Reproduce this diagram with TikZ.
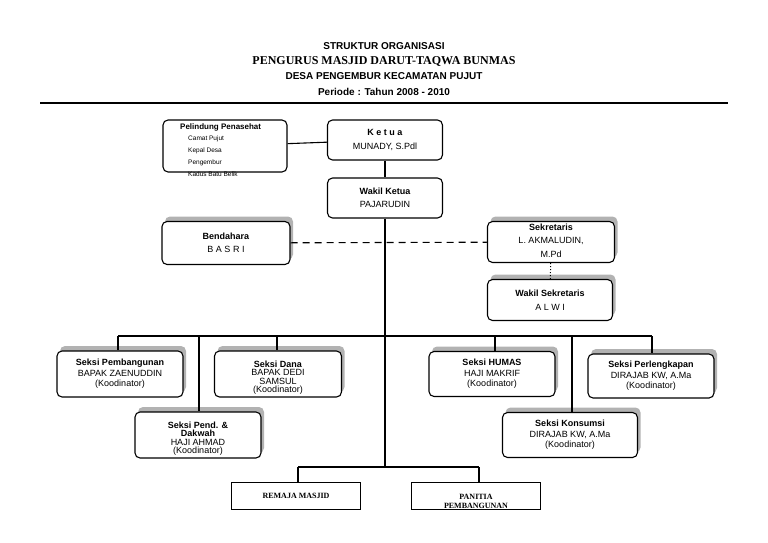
\documentclass[tikz,border=0pt]{standalone}
\usepackage{fontspec}
\setmainfont{Liberation Sans}
\newfontfamily\serif{Liberation Serif}
\begin{document}
\begin{tikzpicture}[x=1pt,y=-1pt,
  bx/.style={draw,line width=1.1pt,rounded corners=5pt,fill=white,align=center,font=\fontsize{9}{10.5}\selectfont,inner sep=2pt},
  sh/.style={bx,preaction={fill=black!30,draw=none,transform canvas={shift={(3pt,5pt)}}}},
  sq/.style={draw,line width=1.1pt,fill=white,align=center,font=\serif\bfseries\fontsize{8}{9}\selectfont},
  ln/.style={line width=1.1pt}]
\useasboundingbox (0,0) rectangle (768,543);
% titles
\node (t1) at (384,46) {\bfseries\fontsize{10}{11}\selectfont STRUKTUR ORGANISASI};
\node (t2) at (384,62) {\serif\bfseries\fontsize{12}{13}\selectfont PENGURUS MASJID DARUT-TAQWA BUNMAS};
\node (t3) at (384,76) {\bfseries\fontsize{10}{11}\selectfont DESA PENGEMBUR KECAMATAN PUJUT};
\node (t4) at (384,92) {\bfseries\fontsize{10}{11}\selectfont Periode : Tahun 2008 - 2010};
\coordinate (r1) at (40,103); \coordinate (r2) at (728,103);
\draw[line width=2.5pt] (r1) -- (r2);
% nodes
\node[bx,minimum width=124,minimum height=52] (pel) at (225,146) {};
\node[anchor=north west,align=left,inner sep=0pt] (pelt) at (180,124) {\bfseries\fontsize{8}{9}\selectfont Pelindung Penasehat\\[-1pt]\fontsize{6.5}{7.5}\selectfont\hspace*{8pt}Camat Pujut\\\fontsize{6.5}{7.5}\selectfont\hspace*{8pt}Kepal Desa\\\fontsize{6.5}{7.5}\selectfont\hspace*{8pt}Pengembur\\\fontsize{6.5}{7.5}\selectfont\hspace*{8pt}Kadus Batu Belik};
\node[bx,minimum width=115,minimum height=40] (ket) at (385,140) {\textbf{K e t u a}\\[3pt]MUNADY, S.Pdl};
\node[bx,minimum width=115,minimum height=40] (wk) at (385,198) {\textbf{Wakil Ketua}\\[3pt]PAJARUDIN};
\node[sh,minimum width=128,minimum height=43] (ben) at (226,243) {\textbf{Bendahara}\\[3pt]B A S R I};
\node[sh,minimum width=127,minimum height=41,text depth=0pt] (sek) at (551,242) {};
\node (sekt) at (551,242) {\fontsize{9}{10.5}\selectfont\begin{tabular}{c}\textbf{Sekretaris}\\[2pt]L. AKMALUDIN,\\[4pt]M.Pd\end{tabular}};
\node[sh,minimum width=125,minimum height=41] (ws) at (550,300) {\textbf{Wakil Sekretaris}\\[3pt]A L W I};
\node[sh,minimum width=126,minimum height=46] (pem) at (120,374) {\textbf{Seksi Pembangunan}\\BAPAK ZAENUDDIN\\(Koodinator)};
\node[sh,minimum width=127,minimum height=46] (dana) at (278,374) {};
\node (danat) at (278,378) {\fontsize{9}{10.5}\selectfont\begin{tabular}{c}\textbf{Seksi Dana}\\[-2pt]BAPAK DEDI\\[-2pt]SAMSUL\\[-2pt](Koodinator)\end{tabular}};
\node[sh,minimum width=126,minimum height=46] (pend) at (198,435) {};
\node (pendt) at (198,439) {\fontsize{9}{10.5}\selectfont\begin{tabular}{c}\textbf{Seksi Pend. \&}\\[-2pt]\textbf{Dakwah}\\[-2pt]HAJI AHMAD\\[-2pt](Koodinator)\end{tabular}};
\node[sh,minimum width=126,minimum height=45] (hum) at (492,374) {\textbf{Seksi HUMAS}\\HAJI MAKRIF\\(Koodinator)};
\node[sh,minimum width=126,minimum height=44] (perl) at (651,376) {\textbf{Seksi Perlengkapan}\\DIRAJAB KW, A.Ma\\(Koodinator)};
\node[sh,minimum width=135,minimum height=45] (kon) at (570,435) {\textbf{Seksi Konsumsi}\\DIRAJAB KW, A.Ma\\(Koodinator)};
\node[sq,minimum width=129,minimum height=27] (rem) at (296,496) {REMAJA MASJID};
\node[sq,minimum width=129,minimum height=27,inner sep=0pt] (pan) at (476,496) {};
\begin{scope}
\clip (pan.south west) rectangle ([yshift=-2pt]pan.north east);
\node[font=\serif\bfseries\fontsize{8}{9}\selectfont,align=center] (pant) at (476,501) {PANITIA\\PEMBANGUNAN};
\end{scope}
% connectors
\coordinate (m1) at (385,336); \coordinate (m2) at (385,467);
\coordinate (hl) at (118,336); \coordinate (hr) at (652,336);
\coordinate (bl) at (298,467); \coordinate (br) at (479,467);
\draw[ln] (pel) -- (ket);
\draw[ln] (ket) -- (wk);
\draw[ln] (wk) -- (m2);
\draw[ln,dashed,dash pattern=on 7pt off 5pt] (ben) -- (sek);
\draw[dotted,line width=1pt] (sek) -- (ws);
\draw[ln] (hl) -- (hr);
\draw[ln] (hl) -- (pem.north -| hl);
\draw[ln] (277,336) -- (dana.north -| 277,0);
\draw[ln] (199,336) -- (pend.north -| 199,0);
\draw[ln] (495,336) -- (hum.north -| 495,0);
\draw[ln] (hr) -- (perl.north -| hr);
\draw[ln] (572,336) -- (kon.north -| 572,0);
\draw[ln] (bl) -- (br);
\draw[ln] (bl) -- (rem.north -| bl);
\draw[ln] (br) -- (pan.north -| br);
\end{tikzpicture}
\end{document}
